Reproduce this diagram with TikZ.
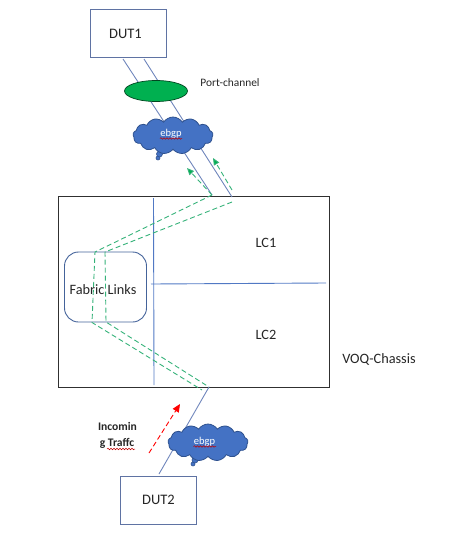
\documentclass[tikz,border=0pt]{standalone}
\usepackage{fontspec}
\setmainfont{Carlito}
\usetikzlibrary{shapes.symbols,shapes.geometric,arrows.meta,decorations.pathmorphing}
\definecolor{boxline}{HTML}{5F73A3}
\definecolor{wire}{HTML}{6F86BC}
\definecolor{vline}{HTML}{5179C4}
\definecolor{cloudfill}{HTML}{4472C4}
\definecolor{cloudline}{HTML}{2F528F}
\definecolor{pgreen}{HTML}{00B050}
\definecolor{dgreen}{HTML}{35B279}
\definecolor{frame}{HTML}{303030}
\tikzset{
  dutbox/.style={draw=boxline,line width=1pt,fill=white,minimum width=75.5pt,minimum height=48pt,inner sep=0pt,font=\fontsize{14.5}{16}\selectfont,text=black!85},
  label/.style={inner sep=0pt,font=\fontsize{14.3}{16}\selectfont,text=black!85},
  smalllabel/.style={inner sep=0pt,font=\fontsize{11.4}{13}\selectfont,text=black!85},
  boldlabel/.style={inner sep=0pt,font=\fontsize{11.6}{13}\selectfont\bfseries,text=black!85},
  wireline/.style={draw=wire,line width=0.9pt},
  inner/.style={draw=vline,line width=0.9pt},
  fabricdash/.style={draw=dgreen,line width=0.9pt,dash pattern=on 5pt off 3pt},
  greenarrow/.style={fabricdash,-{Triangle[length=7pt,width=6pt,fill=pgreen]}},
  redarrow/.style={draw=red,line width=0.9pt,dash pattern=on 5pt off 3pt,-{Triangle[length=8pt,width=7pt,fill=red]}},
  ebgpcloud/.style={cloud,cloud puffs=13,cloud puff arc=115,draw=cloudline,fill=cloudfill,line width=0.8pt,minimum width=80pt,minimum height=37pt,inner sep=0pt,aspect=2.2},
  tailblob/.style={circle,draw=cloudline,fill=cloudfill,line width=0.6pt,inner sep=0pt},
  wavy/.style={draw=red!75!black,line width=0.5pt,decorate,decoration={snake,amplitude=0.8pt,segment length=3pt}}
}
\begin{document}
\begin{tikzpicture}[x=1pt,y=-1pt]
\useasboundingbox (0,0) rectangle (474,536);
% chassis
\node[draw=frame,line width=0.9pt,minimum width=270.5pt,minimum height=191pt,inner sep=0pt] (chassis) at (193.75,291.5) {};
\coordinate (vtop) at (153.5,198);
\coordinate (vbot) at (154,385);
\coordinate (hleft) at (151,284);
\coordinate (hright) at (326,283);
\draw[inner] (vtop) -- (vbot);
\draw[inner] (hleft) -- (hright);
% fabric
\node[draw=cloudline!90,line width=0.9pt,rounded corners=14pt,minimum width=82pt,minimum height=70pt,inner sep=0pt] (fabric) at (105.5,287) {};
\node[label] (fabrictext) at (103,289.5) {Fabric Links};
% DUT boxes
\node[dutbox] (dut1) at (128.25,33) {};
\node[label,font=\fontsize{14.5}{16}\selectfont] (dut1text) at (125.5,33.5) {DUT1};
\node[dutbox] (dut2) at (158.5,500) {DUT2};
% wires
\coordinate (a1) at (123,59);
\coordinate (a2) at (212,195);
\coordinate (b1) at (144,59);
\coordinate (b2) at (232,197);
\coordinate (c1) at (209,387);
\coordinate (c2) at (159,474);
\draw[wireline] (a1) -- (a2);
\draw[wireline] (b1) -- (b2);
\draw[wireline] (c1) -- (c2);
% port-channel
\node[ellipse,draw=black!60!pgreen,fill=pgreen,line width=0.7pt,minimum width=63pt,minimum height=21pt,inner sep=0pt] (pc) at (156,91) {};
\node[smalllabel] (pctext) at (230,83) {Port-channel};
% top cloud
\node[tailblob,minimum size=4pt] (t1b) at (158,158) {};
\node[tailblob,minimum size=6pt] (t1a) at (159.5,154) {};
\node[ebgpcloud] (cloud1) at (173,135.5) {};
\node[inner sep=0pt,text=white,font=\fontsize{10.5}{12}\selectfont] (e1) at (171,133.5) {ebgp};
\draw[wavy] (160,138.5) -- (182,138.5);
% bottom cloud
\node[tailblob,minimum size=4pt] (t2b) at (193,464) {};
\node[tailblob,minimum size=6pt] (t2a) at (195,460) {};
\node[ebgpcloud] (cloud2) at (208,442.5) {};
\node[inner sep=0pt,text=white,font=\fontsize{10.5}{12}\selectfont] (e2) at (204.5,441.5) {ebgp};
\draw[wavy] (193.5,446.5) -- (216,446.5);
% green dashes
\coordinate (f1) at (95,252);
\coordinate (f2) at (105,252);
\coordinate (f3) at (92,322.5);
\coordinate (f4) at (106,322);
\coordinate (f5) at (202,390);
\coordinate (f6) at (232,202);
\draw[fabricdash] (a2) -- (f1) -- (f3) -- (f5);
\draw[fabricdash] (f6) -- (f2) -- (f4) -- (c1);
% arrows
\coordinate (g1) at (212,195);
\coordinate (g2) at (187,168);
\coordinate (g3) at (232,190);
\coordinate (g4) at (213,158);
\draw[greenarrow] (g1) -- (g2);
\draw[greenarrow] (g3) -- (g4);
\coordinate (r1) at (149,453);
\coordinate (r2) at (180,404);
\draw[redarrow] (r1) -- (r2);
% labels
\node[label] (lc1) at (266,243) {LC1};
\node[label] (lc2) at (266,335) {LC2};
\node[label] (voq) at (379,359) {VOQ-Chassis};
\node[boldlabel] (inc1) at (117.5,426) {Incomin};
\node[boldlabel] (inc2) at (117,443) {g Traffc};
\draw[wavy] (107,449) -- (135,449);
\end{tikzpicture}
\end{document}
